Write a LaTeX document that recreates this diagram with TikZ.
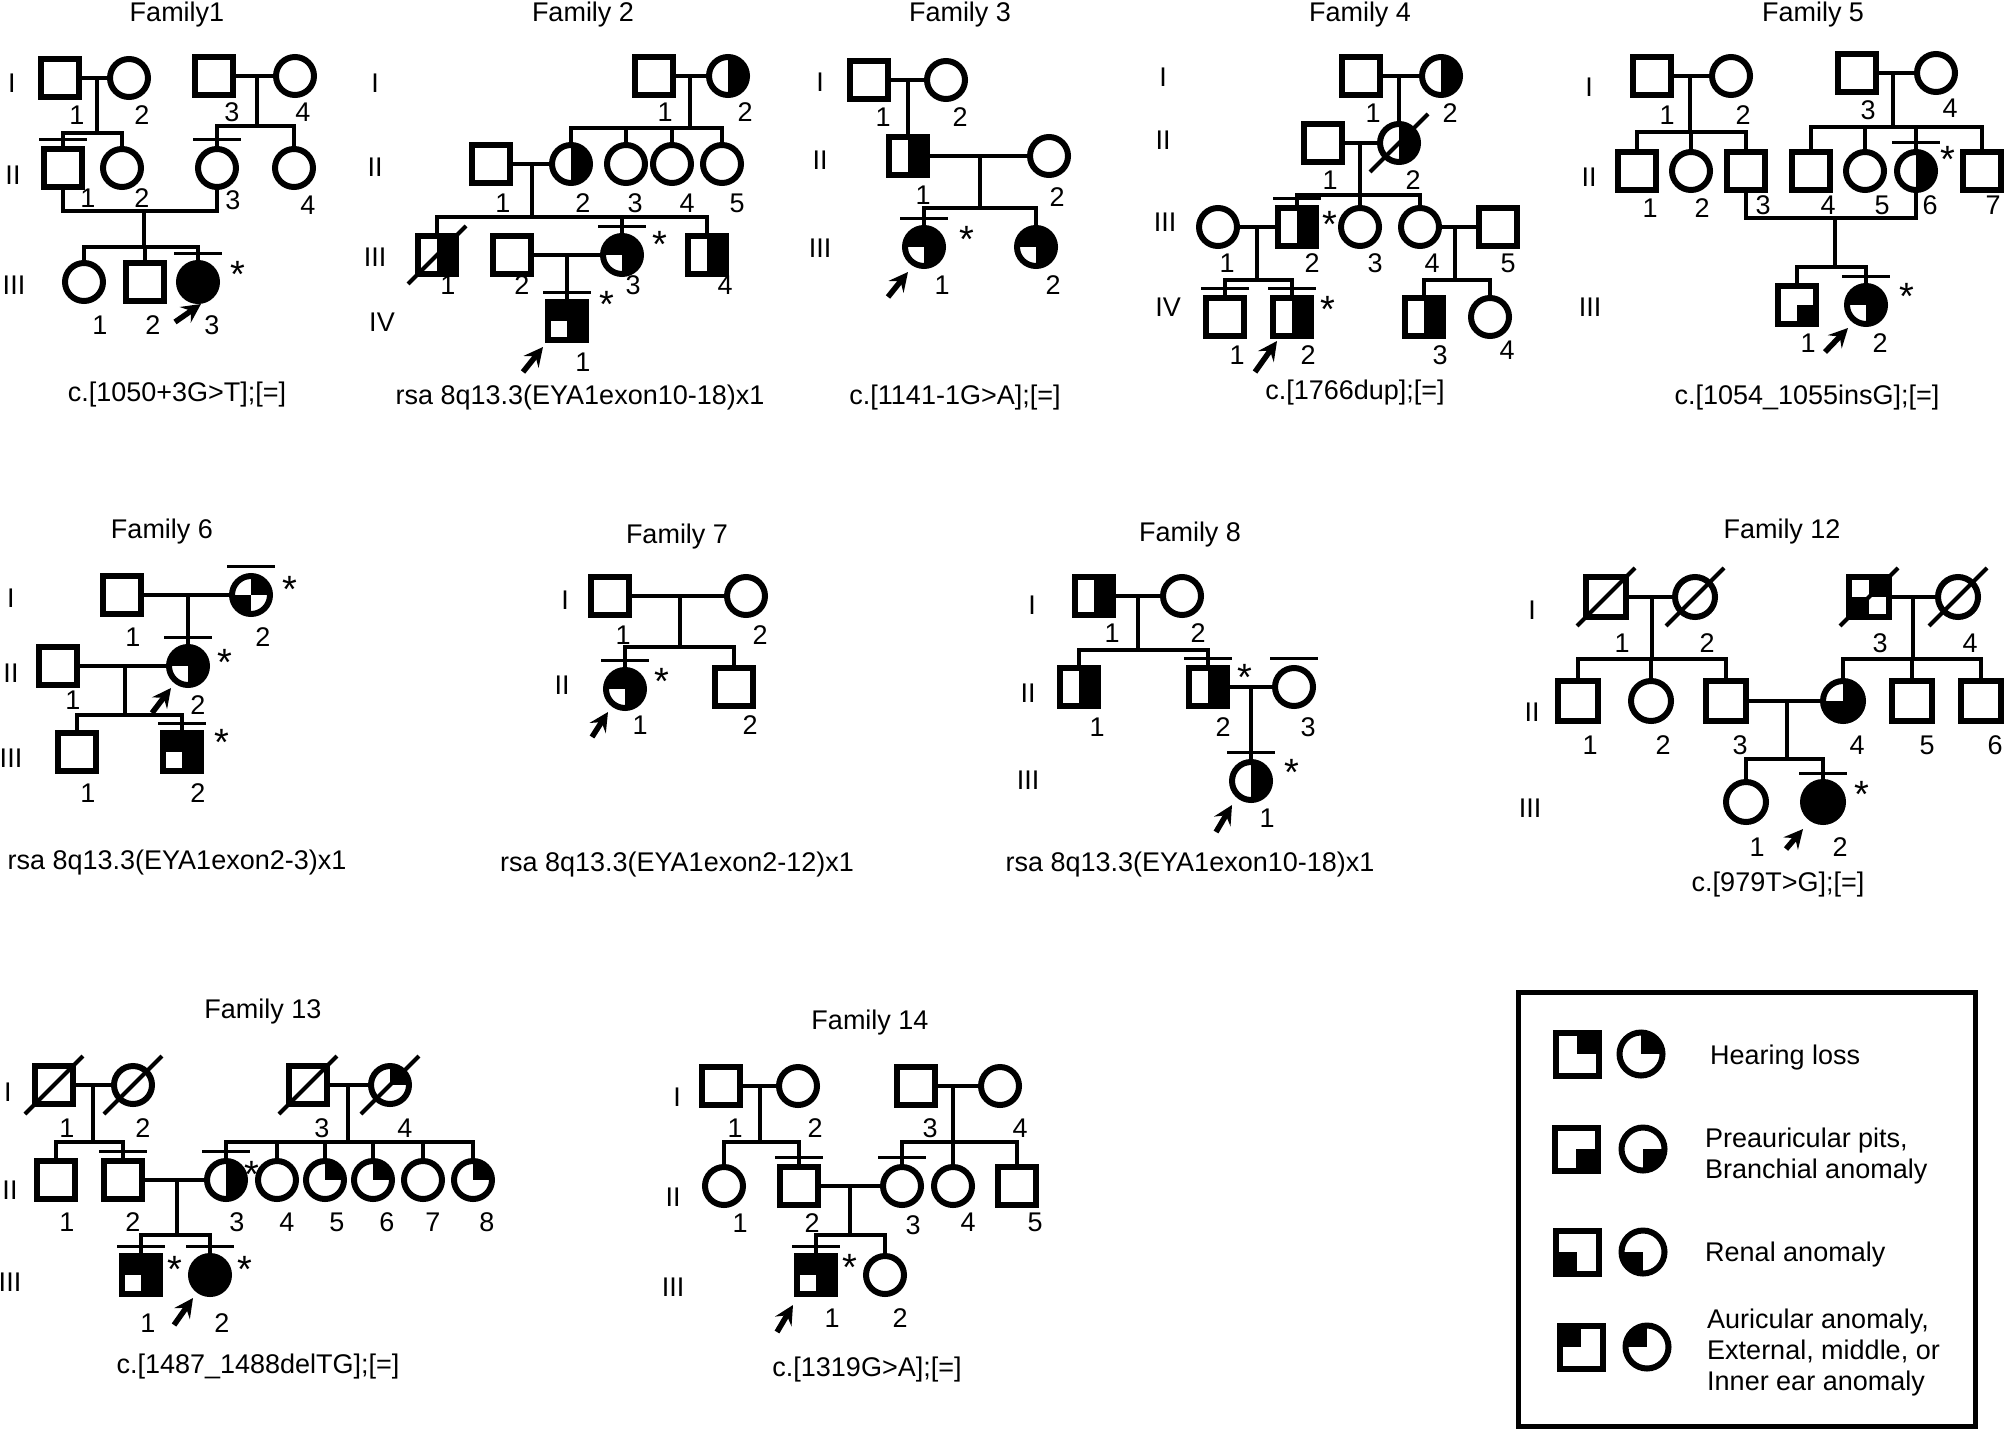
\documentclass[tikz,border=0pt]{standalone}
\usepackage{fontspec}
\setmainfont{Liberation Sans}
\usetikzlibrary{arrows.meta}
\newcounter{lbc}
\newcommand\mylb[3]{\stepcounter{lbc}\node[lab] (lb\thelbc) at (#1,#2) {#3};}
\newcommand\mystar[2]{\stepcounter{lbc}\node[lab,font=\fontsize{38}{40}\selectfont,yshift=-9pt] (lb\thelbc) at (#1,#2) {*};}
\newcommand\mydec[1]{\draw[dl] ([shift={(-29,29)}]#1.center) -- ([shift={(29,-29)}]#1.center);}
\newcommand\mybar[1]{\draw[sbar] ([shift={(-24,-29)}]#1.center) -- ([shift={(24,-29)}]#1.center);}
\newcommand\myprb[5]{\draw[prob] ([shift={(#2,#3)}]#1.center) -- ([shift={(#4,#5)}]#1.center);}
\begin{document}
\begin{tikzpicture}[x=1pt,y=-1pt,
 lab/.style={font=\fontsize{27}{31}\selectfont, inner sep=0pt},
 ind/.style={draw, line width=6pt, minimum size=38pt, inner sep=0pt, outer sep=0pt},
 msq/.style={ind, rectangle},
 fci/.style={ind, circle},
 big/.style={minimum size=40pt},
 lg/.style={minimum size=43pt},
 blk/.style={fill=black},
 qd/.style={path picture={\foreach \qq in {#1}{\fill[black] (path picture bounding box.center) rectangle (path picture bounding box.\qq);}}},
 half/.style={qd={north east,south east}},
 tq/.style={qd={north east,south east,north west}},
 con/.style={line width=4.4pt},
 sbar/.style={line width=3pt},
 dl/.style={line width=4pt},
 prob/.style={line width=5.5pt, -{Stealth[length=19pt,width=19pt,inset=7pt]}}]
\useasboundingbox (0,0) rectangle (2007,1432);

%%%%% Family 1
\mylb{177}{15}{Family1}
\mylb{12}{83}{I}\mylb{13}{175}{II}\mylb{14}{285}{III}
\node[msq] (a11) at (60,78) {};
\node[fci] (a12) at (129,78) {};
\node[msq] (a13) at (214,76) {};
\node[fci] (a14) at (295,76) {};
\node[msq] (a21) at (63,168) {};
\node[fci] (a22) at (122,168) {};
\node[fci] (a23) at (217,168) {};
\node[fci] (a24) at (294,168) {};
\node[fci] (a31) at (84,282) {};
\node[msq] (a32) at (145,282) {};
\node[fci,blk] (a33) at (198,282) {};
\coordinate (a1m) at (97,78); \coordinate (a1s) at (97,133);
\coordinate (a2m) at (257,76); \coordinate (a2s) at (257,126);
\coordinate (a3m) at (144,211); \coordinate (a3s) at (144,247);
\draw[con] (a11) -- (a12); \draw[con] (a13) -- (a14);
\draw[con] (a1m) -- (a1s); \draw[con] (a2m) -- (a2s);
\draw[con] (a21.north) |- (a1s) -| (a22.north);
\draw[con] (a23.north) |- (a2s) -| (a24.north);
\draw[con] (a21.south) |- (a3m) -| (a23.south);
\draw[con] (a3m) -- (a3s);
\draw[con] (a31.north) |- (a3s) -| (a33.north);
\draw[con] (a32.north) -- (a32.north |- a3s);
\mybar{a21}\mybar{a23}\mybar{a33}
\mystar{238}{265}
\mylb{77}{115}{1}\mylb{142}{115}{2}\mylb{232}{112}{3}\mylb{303}{112}{4}
\mylb{88}{198}{1}\mylb{142}{198}{2}\mylb{233}{200}{3}\mylb{308}{205}{4}
\mylb{100}{325}{1}\mylb{153}{325}{2}\mylb{212}{325}{3}
\myprb{a33}{-23}{40}{3}{22}
\mylb{177}{395}{c.[1050+3G>T];[=]}

%%%%% Family 2
\mylb{583}{15}{Family 2}
\mylb{375}{83}{I}\mylb{375}{167}{II}\mylb{375}{257}{III}\mylb{382}{322}{IV}
\node[msq] (b11) at (654,76) {};
\node[fci,half] (b12) at (728,76) {};
\node[msq] (b21) at (491,164) {};
\node[fci,half] (b22) at (571,164) {};
\node[fci] (b23) at (626,164) {};
\node[fci] (b24) at (672,164) {};
\node[fci] (b25) at (722,164) {};
\node[msq,half] (b31) at (437,255) {};
\node[msq] (b32) at (512,255) {};
\node[fci,tq] (b33) at (622,255) {};
\node[msq,half] (b34) at (707,255) {};
\node[msq,tq] (b41) at (567,321) {};
\coordinate (b1m) at (690,76); \coordinate (b1s) at (690,128);
\coordinate (b2m) at (532,164); \coordinate (b2s) at (532,217);
\coordinate (b3m) at (567,255);
\draw[con] (b11) -- (b12); \draw[con] (b1m) -- (b1s);
\draw[con] (b22.north) |- (b1s) -| (b25.north);
\draw[con] (b23.north) -- (b23.north |- b1s);
\draw[con] (b24.north) -- (b24.north |- b1s);
\draw[con] (b21) -- (b22); \draw[con] (b2m) -- (b2s);
\draw[con] (b31.north) |- (b2s) -| (b34.north);
\draw[con] (b33.north) -- (b33.north |- b2s);
\draw[con] (b32) -- (b33); \draw[con] (b3m) -- (b41.north);
\mydec{b31}
\mybar{b33}\mybar{b41}
\mystar{660}{235}\mystar{607}{295}
\mylb{665}{112}{1}\mylb{745}{112}{2}
\mylb{503}{203}{1}\mylb{583}{203}{2}\mylb{635}{203}{3}\mylb{687}{203}{4}\mylb{737}{203}{5}
\mylb{448}{285}{1}\mylb{522}{285}{2}\mylb{633}{285}{3}\mylb{725}{285}{4}
\mylb{583}{362}{1}
\myprb{b41}{-44}{51}{-24}{26}
\mylb{580}{398}{rsa 8q13.3(EYA1exon10-18)x1}

%%%%% Family 3
\mylb{960}{15}{Family 3}
\mylb{820}{82}{I}\mylb{820}{160}{II}\mylb{820}{248}{III}
\node[msq] (c11) at (869,80) {};
\node[fci] (c12) at (946,80) {};
\node[msq,half] (c21) at (908,156) {};
\node[fci] (c22) at (1049,156) {};
\node[fci,tq] (c31) at (924,247) {};
\node[fci,tq] (c32) at (1036,247) {};
\coordinate (c1m) at (908,80);
\coordinate (c2m) at (980,156); \coordinate (c2s) at (980,208);
\draw[con] (c11) -- (c12); \draw[con] (c1m) -- (c21.north);
\draw[con] (c21) -- (c22); \draw[con] (c2m) -- (c2s);
\draw[con] (c31.north) |- (c2s) -| (c32.north);
\mybar{c31}
\mystar{967}{230}
\mylb{883}{117}{1}\mylb{960}{117}{2}\mylb{923}{195}{1}\mylb{1057}{197}{2}
\mylb{942}{285}{1}\mylb{1053}{285}{2}
\myprb{c31}{-36}{50}{-16}{25}
\mylb{955}{398}{c.[1141-1G>A];[=]}

%%%%% Family 4
\mylb{1360}{15}{Family 4}
\mylb{1163}{77}{I}\mylb{1163}{140}{II}\mylb{1165}{222}{III}\mylb{1168}{307}{IV}
\node[msq] (d11) at (1361,76) {};
\node[fci,half] (d12) at (1441,76) {};
\node[msq] (d21) at (1323,143) {};
\node[fci,half] (d22) at (1399,143) {};
\node[fci] (d31) at (1218,227) {};
\node[msq,half] (d32) at (1297,227) {};
\node[fci] (d33) at (1360,227) {};
\node[fci] (d34) at (1420,227) {};
\node[msq] (d35) at (1498,227) {};
\node[msq] (d41) at (1225,317) {};
\node[msq,half] (d42) at (1292,317) {};
\node[msq,half] (d43) at (1424,317) {};
\node[fci] (d44) at (1490,317) {};
\coordinate (d1m) at (1399,76);
\coordinate (d2m) at (1360,143); \coordinate (d2s) at (1360,195);
\coordinate (d3m) at (1257,227); \coordinate (d3s) at (1257,280);
\coordinate (d4m) at (1455,227); \coordinate (d4s) at (1455,280);
\draw[con] (d11) -- (d12); \draw[con] (d1m) -- (d22.north);
\draw[con] (d21) -- (d22); \draw[con] (d2m) -- (d2s);
\draw[con] (d32.north) |- (d2s) -| (d34.north);
\draw[con] (d33.north) -- (d33.north |- d2s);
\draw[con] (d31) -- (d32); \draw[con] (d3m) -- (d3s);
\draw[con] (d41.north) |- (d3s) -| (d42.north);
\draw[con] (d34) -- (d35); \draw[con] (d4m) -- (d4s);
\draw[con] (d43.north) |- (d4s) -| (d44.north);
\mydec{d22}
\mybar{d32}\mybar{d41}\mybar{d42}
\mystar{1330}{215}\mystar{1328}{300}
\mylb{1373}{113}{1}\mylb{1450}{113}{2}\mylb{1330}{180}{1}\mylb{1413}{180}{2}
\mylb{1227}{263}{1}\mylb{1312}{263}{2}\mylb{1375}{263}{3}\mylb{1432}{263}{4}\mylb{1508}{263}{5}
\mylb{1237}{355}{1}\mylb{1308}{355}{2}\mylb{1440}{355}{3}\mylb{1507}{350}{4}
\myprb{d42}{-37}{55}{-15}{24}
\mylb{1355}{393}{c.[1766dup];[=]}

%%%%% Family 5
\mylb{1813}{15}{Family 5}
\mylb{1589}{87}{I}\mylb{1589}{177}{II}\mylb{1590}{307}{III}
\node[msq] (e11) at (1652,76) {};
\node[fci] (e12) at (1731,76) {};
\node[msq] (e13) at (1857,73) {};
\node[fci] (e14) at (1936,73) {};
\node[msq] (e21) at (1637,171) {};
\node[fci] (e22) at (1691,171) {};
\node[msq] (e23) at (1746,171) {};
\node[msq] (e24) at (1811,171) {};
\node[fci] (e25) at (1865,171) {};
\node[fci,half] (e26) at (1916,171) {};
\node[msq] (e27) at (1982,171) {};
\node[msq,qd={south east}] (e31) at (1797,305) {};
\node[fci,tq] (e32) at (1866,305) {};
\coordinate (e1m) at (1690,76); \coordinate (e1s) at (1690,132);
\coordinate (e2m) at (1893,73); \coordinate (e2s) at (1893,127);
\coordinate (e3m) at (1835,218); \coordinate (e3s) at (1835,267);
\draw[con] (e11) -- (e12); \draw[con] (e1m) -- (e1s);
\draw[con] (e13) -- (e14); \draw[con] (e2m) -- (e2s);
\draw[con] (e21.north) |- (e1s) -| (e23.north);
\draw[con] (e22.north) -- (e22.north |- e1s);
\draw[con] (e24.north) |- (e2s) -| (e27.north);
\draw[con] (e25.north) -- (e25.north |- e2s);
\draw[con] (e26.north) -- (e26.north |- e2s);
\draw[con] (e23.south) |- (e3m) -| (e26.south);
\draw[con] (e3m) -- (e3s);
\draw[con] (e31.north) |- (e3s) -| (e32.north);
\mybar{e26}\mybar{e32}
\mystar{1948}{150}\mystar{1907}{287}
\mylb{1667}{115}{1}\mylb{1743}{115}{2}\mylb{1868}{110}{3}\mylb{1950}{108}{4}
\mylb{1650}{208}{1}\mylb{1702}{208}{2}\mylb{1763}{205}{3}\mylb{1828}{205}{4}\mylb{1882}{205}{5}\mylb{1930}{205}{6}\mylb{1993}{205}{7}
\mylb{1808}{343}{1}\mylb{1880}{343}{2}
\myprb{e32}{-41}{47}{-18}{23}
\mylb{1807}{398}{c.[1054\_1055insG];[=]}

%%%%% Family 6
\mylb{162}{532}{Family 6}
\mylb{11}{598}{I}\mylb{11}{673}{II}\mylb{11}{758}{III}
\node[msq] (g11) at (122,595) {};
\node[fci,qd={north east,south west}] (g12) at (251,595) {};
\node[msq] (g21) at (58,666) {};
\node[fci,tq] (g22) at (188,666) {};
\node[msq] (g31) at (77,752) {};
\node[msq,tq] (g32) at (182,752) {};
\coordinate (g1m) at (188,595);
\coordinate (g2m) at (125,666); \coordinate (g2s) at (125,715);
\draw[con] (g11) -- (g12); \draw[con] (g1m) -- (g22.north);
\draw[con] (g21) -- (g22); \draw[con] (g2m) -- (g2s);
\draw[con] (g31.north) |- (g2s) -| (g32.north);
\mybar{g12}\mybar{g22}\mybar{g32}
\mystar{290}{580}\mystar{225}{653}\mystar{222}{733}
\mylb{133}{637}{1}\mylb{263}{637}{2}\mylb{73}{700}{1}\mylb{198}{705}{2}
\mylb{88}{793}{1}\mylb{198}{793}{2}
\myprb{g22}{-36}{47}{-17}{22}
\mylb{177}{863}{rsa 8q13.3(EYA1exon2-3)x1}

%%%%% Family 7
\mylb{677}{537}{Family 7}
\mylb{565}{600}{I}\mylb{562}{685}{II}
\node[msq] (h11) at (610,596) {};
\node[fci] (h12) at (746,596) {};
\node[fci,tq] (h21) at (625,689) {};
\node[msq] (h22) at (734,687) {};
\coordinate (h1m) at (680,596); \coordinate (h1s) at (680,647);
\draw[con] (h11) -- (h12); \draw[con] (h1m) -- (h1s);
\draw[con] (h21.north) |- (h1s) -| (h22.north);
\mybar{h21}
\mystar{662}{672}
\mylb{623}{635}{1}\mylb{760}{635}{2}\mylb{640}{725}{1}\mylb{750}{725}{2}
\myprb{h21}{-33}{48}{-17}{23}
\mylb{677}{865}{rsa 8q13.3(EYA1exon2-12)x1}

%%%%% Family 8
\mylb{1190}{535}{Family 8}
\mylb{1032}{605}{I}\mylb{1028}{693}{II}\mylb{1028}{780}{III}
\node[msq,half] (k11) at (1094,596) {};
\node[fci] (k12) at (1182,596) {};
\node[msq,half] (k21) at (1079,687) {};
\node[msq,half] (k22) at (1208,687) {};
\node[fci] (k23) at (1294,687) {};
\node[fci,half] (k31) at (1251,781) {};
\coordinate (k1m) at (1138,596); \coordinate (k1s) at (1138,650);
\coordinate (k2m) at (1251,687);
\draw[con] (k11) -- (k12); \draw[con] (k1m) -- (k1s);
\draw[con] (k21.north) |- (k1s) -| (k22.north);
\draw[con] (k22) -- (k23); \draw[con] (k2m) -- (k31.north);
\mybar{k22}\mybar{k23}\mybar{k31}
\mystar{1245}{668}\mystar{1292}{763}
\mylb{1112}{633}{1}\mylb{1198}{633}{2}\mylb{1097}{727}{1}\mylb{1223}{727}{2}\mylb{1308}{727}{3}
\mylb{1267}{818}{1}
\myprb{k31}{-35}{51}{-19}{24}
\mylb{1190}{865}{rsa 8q13.3(EYA1exon10-18)x1}

%%%%% Family 12
\mylb{1782}{532}{Family 12}
\mylb{1532}{610}{I}\mylb{1532}{712}{II}\mylb{1530}{808}{III}
\node[msq,big] (p11) at (1606,597) {};
\node[fci,big] (p12) at (1695,597) {};
\node[msq,big,qd={north east,south west}] (p13) at (1869,597) {};
\node[fci,big] (p14) at (1958,597) {};
\node[msq,big] (p21) at (1578,701) {};
\node[fci,big] (p22) at (1651,701) {};
\node[msq,big] (p23) at (1726,701) {};
\node[fci,big,qd={north east,south east,south west}] (p24) at (1843,701) {};
\node[msq,big] (p25) at (1912,701) {};
\node[msq,big] (p26) at (1981,701) {};
\node[fci,big] (p31) at (1746,802) {};
\node[fci,big,blk] (p32) at (1823,802) {};
\coordinate (p1m) at (1652,597); \coordinate (p1s) at (1652,659);
\coordinate (p2m) at (1913,597); \coordinate (p2s) at (1913,659);
\coordinate (p3m) at (1787,701); \coordinate (p3s) at (1787,759);
\draw[con] (p11) -- (p12); \draw[con] (p1m) -- (p1s);
\draw[con] (p13) -- (p14); \draw[con] (p2m) -- (p2s);
\draw[con] (p21.north) |- (p1s) -| (p23.north);
\draw[con] (p22.north) -- (p22.north |- p1s);
\draw[con] (p24.north) |- (p2s) -| (p26.north);
\draw[con] (p25.north) -- (p25.north |- p2s);
\draw[con] (p23) -- (p24); \draw[con] (p3m) -- (p3s);
\draw[con] (p31.north) |- (p3s) -| (p32.north);
\mydec{p11}\mydec{p12}\mydec{p13}\mydec{p14}
\mybar{p32}
\mystar{1862}{785}
\mylb{1622}{643}{1}\mylb{1707}{643}{2}\mylb{1880}{643}{3}\mylb{1970}{643}{4}
\mylb{1590}{745}{1}\mylb{1663}{745}{2}\mylb{1740}{745}{3}\mylb{1857}{745}{4}\mylb{1927}{745}{5}\mylb{1995}{745}{6}
\mylb{1757}{847}{1}\mylb{1840}{847}{2}
\myprb{p32}{-37}{47}{-20}{27}
\mylb{1778}{885}{c.[979T>G];[=]}

%%%%% Family 13
\mylb{263}{1012}{Family 13}
\mylb{8}{1092}{I}\mylb{10}{1190}{II}\mylb{10}{1282}{III}
\node[msq] (r11) at (54,1085) {};
\node[fci] (r12) at (133,1085) {};
\node[msq] (r13) at (308,1085) {};
\node[fci,qd={north east}] (r14) at (390,1085) {};
\node[msq] (r21) at (56,1180) {};
\node[msq] (r22) at (123,1180) {};
\node[fci,half] (r23) at (226,1180) {};
\node[fci] (r24) at (277,1180) {};
\node[fci,qd={north east}] (r25) at (325,1180) {};
\node[fci,qd={north east}] (r26) at (373,1180) {};
\node[fci] (r27) at (423,1180) {};
\node[fci,qd={north east}] (r28) at (473,1180) {};
\node[msq,tq] (r31) at (141,1275) {};
\node[fci,blk] (r32) at (210,1275) {};
\coordinate (r1m) at (93,1085); \coordinate (r1s) at (93,1142);
\coordinate (r2m) at (348,1085); \coordinate (r2s) at (348,1142);
\coordinate (r3m) at (177,1180); \coordinate (r3s) at (177,1235);
\draw[con] (r11) -- (r12); \draw[con] (r1m) -- (r1s);
\draw[con] (r13) -- (r14); \draw[con] (r2m) -- (r2s);
\draw[con] (r21.north) |- (r1s) -| (r22.north);
\draw[con] (r23.north) |- (r2s) -| (r28.north);
\foreach \n in {r24,r25,r26,r27}{\draw[con] (\n.north) -- (\n.north |- r2s);}
\draw[con] (r22) -- (r23); \draw[con] (r3m) -- (r3s);
\draw[con] (r31.north) |- (r3s) -| (r32.north);
\mydec{r11}\mydec{r12}\mydec{r13}\mydec{r14}
\mybar{r22}\mybar{r23}\mybar{r31}\mybar{r32}
\mystar{252}{1165}\mystar{175}{1260}\mystar{245}{1260}
\mylb{67}{1128}{1}\mylb{143}{1128}{2}\mylb{322}{1128}{3}\mylb{405}{1128}{4}
\mylb{67}{1222}{1}\mylb{133}{1222}{2}\mylb{237}{1222}{3}\mylb{287}{1222}{4}\mylb{337}{1222}{5}\mylb{387}{1222}{6}\mylb{433}{1222}{7}\mylb{487}{1222}{8}
\mylb{148}{1323}{1}\mylb{222}{1323}{2}
\myprb{r32}{-36}{50}{-17}{23}
\mylb{258}{1367}{c.[1487\_1488delTG];[=]}

%%%%% Family 14
\mylb{870}{1023}{Family 14}
\mylb{677}{1097}{I}\mylb{673}{1197}{II}\mylb{673}{1287}{III}
\node[msq] (s11) at (721,1086) {};
\node[fci] (s12) at (798,1086) {};
\node[msq] (s13) at (916,1086) {};
\node[fci] (s14) at (1000,1086) {};
\node[fci] (s21) at (724,1186) {};
\node[msq] (s22) at (799,1186) {};
\node[fci] (s23) at (902,1186) {};
\node[fci] (s24) at (953,1186) {};
\node[msq] (s25) at (1017,1186) {};
\node[msq,tq] (s31) at (816,1275) {};
\node[fci] (s32) at (885,1275) {};
\coordinate (s1m) at (760,1086); \coordinate (s1s) at (760,1142);
\coordinate (s2m) at (953,1086); \coordinate (s2s) at (953,1142);
\coordinate (s3m) at (850,1186); \coordinate (s3s) at (850,1235);
\draw[con] (s11) -- (s12); \draw[con] (s1m) -- (s1s);
\draw[con] (s13) -- (s14); \draw[con] (s2m) -- (s2s);
\draw[con] (s21.north) |- (s1s) -| (s22.north);
\draw[con] (s23.north) |- (s2s) -| (s25.north);
\draw[con] (s24.north) -- (s24.north |- s2s);
\draw[con] (s22) -- (s23); \draw[con] (s3m) -- (s3s);
\draw[con] (s31.north) |- (s3s) -| (s32.north);
\mybar{s22}\mybar{s23}\mybar{s31}
\mystar{850}{1258}
\mylb{735}{1128}{1}\mylb{815}{1128}{2}\mylb{930}{1128}{3}\mylb{1020}{1128}{4}
\mylb{740}{1223}{1}\mylb{812}{1223}{2}\mylb{913}{1225}{3}\mylb{968}{1222}{4}\mylb{1035}{1222}{5}
\mylb{832}{1318}{1}\mylb{900}{1318}{2}
\myprb{s31}{-39}{57}{-23}{30}
\mylb{867}{1370}{c.[1319G>A];[=]}

%%%%% Legend
\node[draw, line width=5pt, minimum width=457pt, minimum height=434pt, inner sep=0pt, outer sep=0pt, anchor=north west] (legbox) at (1518,992) {};
\node[msq,lg,qd={north east}] (L1a) at (1577,1054) {};
\node[fci,lg,qd={north east}] (L1b) at (1641,1054) {};
\node[lab,anchor=west] (L1t) at (1710,1058) {Hearing loss};
\node[msq,lg,qd={south east}] (L2a) at (1576,1149) {};
\node[fci,lg,qd={south east}] (L2b) at (1643,1149) {};
\node[lab,anchor=west,align=left] (L2t) at (1705,1156) {Preauricular pits,\\Branchial anomaly};
\node[msq,lg,qd={south west}] (L3a) at (1577,1252) {};
\node[fci,lg,qd={south west}] (L3b) at (1643,1252) {};
\node[lab,anchor=west] (L3t) at (1705,1255) {Renal anomaly};
\node[msq,lg,qd={north west}] (L4a) at (1581,1347) {};
\node[fci,lg,qd={north west}] (L4b) at (1647,1347) {};
\node[lab,anchor=west,align=left] (L4t) at (1707,1352) {Auricular anomaly,\\External, middle, or\\Inner ear anomaly};
\end{tikzpicture}
\end{document}
